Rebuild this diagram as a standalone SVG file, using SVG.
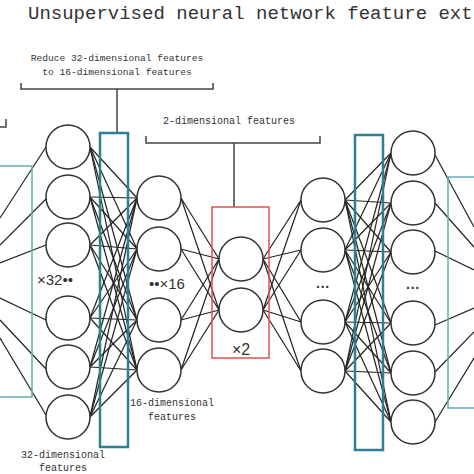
<svg xmlns="http://www.w3.org/2000/svg" width="474" height="474" viewBox="0 0 474 474">
<style>
.t{font-family:"Liberation Mono","DejaVu Sans Mono",monospace;fill:#333}
.s{font-family:"Liberation Sans","Noto Sans CJK SC",sans-serif;fill:#333}
.n{fill:#fff;stroke:#333;stroke-width:1.5}
.c line{stroke:#222;stroke-width:1.2}
.br{fill:none;stroke:#444;stroke-width:1.5}
.tk{fill:none;stroke:#2f7f93;stroke-width:2.5}
.tl{fill:none;stroke:#6aa9b7;stroke-width:1.5}
.rd{fill:none;stroke:#e05050;stroke-width:1.5}
</style>
<rect width="474" height="474" fill="#fff"/>
<text class="t" x="28" y="19" font-size="19">Unsupervised neural network feature ext</text>
<g id="bracket1">
<text class="t" x="117" y="61" font-size="9.6" text-anchor="middle">Reduce 32-dimensional features</text>
<text class="t" x="117" y="75" font-size="9.6" text-anchor="middle">to 16-dimensional features</text>
<path class="br" d="M21 83V89H213V83M117 89V133"/>
</g>
<g id="bracket2">
<text class="t" x="229" y="124" font-size="10" text-anchor="middle">2-dimensional features</text>
<path class="br" d="M146 136V143H320V136M234 143V207"/>
</g>
<path class="br" d="M0 127H6V119"/>
<g class="c" id="connectors">
<line x1="0" y1="218" x2="46" y2="147"/>
<line x1="0" y1="245" x2="46" y2="199"/>
<line x1="0" y1="263" x2="46" y2="245"/>
<line x1="0" y1="298" x2="46" y2="320"/>
<line x1="0" y1="320" x2="46" y2="369"/>
<line x1="0" y1="338" x2="46" y2="415"/>
<g id="L32to16">
<line x1="90" y1="147" x2="137" y2="198"/><line x1="90" y1="147" x2="137" y2="249"/><line x1="90" y1="147" x2="137" y2="320"/><line x1="90" y1="147" x2="137" y2="370"/>
<line x1="90" y1="197" x2="137" y2="198"/><line x1="90" y1="197" x2="137" y2="249"/><line x1="90" y1="197" x2="137" y2="320"/><line x1="90" y1="197" x2="137" y2="370"/>
<line x1="90" y1="245" x2="137" y2="198"/><line x1="90" y1="245" x2="137" y2="249"/><line x1="90" y1="245" x2="137" y2="320"/><line x1="90" y1="245" x2="137" y2="370"/>
<line x1="90" y1="318" x2="137" y2="198"/><line x1="90" y1="318" x2="137" y2="249"/><line x1="90" y1="318" x2="137" y2="320"/><line x1="90" y1="318" x2="137" y2="370"/>
<line x1="90" y1="367" x2="137" y2="198"/><line x1="90" y1="367" x2="137" y2="249"/><line x1="90" y1="367" x2="137" y2="320"/><line x1="90" y1="367" x2="137" y2="370"/>
<line x1="90" y1="417" x2="137" y2="198"/><line x1="90" y1="417" x2="137" y2="249"/><line x1="90" y1="417" x2="137" y2="320"/><line x1="90" y1="417" x2="137" y2="370"/>
</g>
<g id="L16to2">
<line x1="181" y1="198" x2="219" y2="259"/><line x1="181" y1="198" x2="219" y2="310"/>
<line x1="181" y1="249" x2="219" y2="259"/><line x1="181" y1="249" x2="219" y2="310"/>
<line x1="181" y1="320" x2="219" y2="259"/><line x1="181" y1="320" x2="219" y2="310"/>
<line x1="181" y1="370" x2="219" y2="259"/><line x1="181" y1="370" x2="219" y2="310"/>
</g>
<g id="L2to16">
<line x1="263" y1="259" x2="301" y2="200"/><line x1="263" y1="259" x2="301" y2="250"/><line x1="263" y1="259" x2="301" y2="322"/><line x1="263" y1="259" x2="301" y2="371"/>
<line x1="263" y1="310" x2="301" y2="200"/><line x1="263" y1="310" x2="301" y2="250"/><line x1="263" y1="310" x2="301" y2="322"/><line x1="263" y1="310" x2="301" y2="371"/>
</g>
<g id="R16to32">
<line x1="345" y1="200" x2="391" y2="153"/><line x1="345" y1="200" x2="391" y2="203"/><line x1="345" y1="200" x2="391" y2="252"/><line x1="345" y1="200" x2="391" y2="323"/><line x1="345" y1="200" x2="391" y2="373"/><line x1="345" y1="200" x2="391" y2="422"/>
<line x1="345" y1="250" x2="391" y2="153"/><line x1="345" y1="250" x2="391" y2="203"/><line x1="345" y1="250" x2="391" y2="252"/><line x1="345" y1="250" x2="391" y2="323"/><line x1="345" y1="250" x2="391" y2="373"/><line x1="345" y1="250" x2="391" y2="422"/>
<line x1="345" y1="322" x2="391" y2="153"/><line x1="345" y1="322" x2="391" y2="203"/><line x1="345" y1="322" x2="391" y2="252"/><line x1="345" y1="322" x2="391" y2="323"/><line x1="345" y1="322" x2="391" y2="373"/><line x1="345" y1="322" x2="391" y2="422"/>
<line x1="345" y1="371" x2="391" y2="153"/><line x1="345" y1="371" x2="391" y2="203"/><line x1="345" y1="371" x2="391" y2="252"/><line x1="345" y1="371" x2="391" y2="323"/><line x1="345" y1="371" x2="391" y2="373"/><line x1="345" y1="371" x2="391" y2="422"/>
</g>
<line x1="435" y1="155" x2="474" y2="227"/>
<line x1="435" y1="203" x2="474" y2="247"/>
<line x1="435" y1="251" x2="474" y2="270"/>
<line x1="435" y1="325" x2="474" y2="308"/>
<line x1="435" y1="372" x2="474" y2="332"/>
<line x1="435" y1="422" x2="474" y2="358"/>
</g>
<rect class="tl" x="-10" y="166" width="42" height="231"/>
<rect class="tk" x="100" y="133" width="28" height="314"/>
<rect class="rd" x="212" y="207" width="57" height="151"/>
<rect class="tk" x="355" y="135" width="28" height="315"/>
<rect class="tl" x="448" y="177" width="40" height="231"/>
<g id="layer32in">
<circle class="n" cx="68" cy="147" r="22"/><circle class="n" cx="68" cy="197" r="22"/><circle class="n" cx="68" cy="245" r="22"/>
<circle class="n" cx="68" cy="318" r="22"/><circle class="n" cx="68" cy="367" r="22"/><circle class="n" cx="68" cy="417" r="22"/>
<text class="s" x="37" y="285" font-size="15">×32••</text>
<text class="t" x="63" y="458" font-size="10" text-anchor="middle">32-dimensional</text>
<text class="t" x="63" y="471" font-size="10" text-anchor="middle">features</text>
</g>
<g id="layer16in">
<circle class="n" cx="159" cy="198" r="22"/><circle class="n" cx="159" cy="249" r="22"/>
<circle class="n" cx="159" cy="320" r="22"/><circle class="n" cx="159" cy="370" r="22"/>
<text class="s" x="149" y="289" font-size="15">••×16</text>
<text class="t" x="172" y="406" font-size="10" text-anchor="middle">16-dimensional</text>
<text class="t" x="172" y="420" font-size="10" text-anchor="middle">features</text>
</g>
<g id="layer2">
<circle class="n" cx="241" cy="259" r="22"/><circle class="n" cx="241" cy="310" r="22"/>
<text class="s" x="232" y="355" font-size="16">×2</text>
</g>
<g id="layer16out">
<circle class="n" cx="323" cy="200" r="22"/><circle class="n" cx="323" cy="250" r="22"/>
<circle class="n" cx="323" cy="322" r="22"/><circle class="n" cx="323" cy="371" r="22"/>
<text class="s" x="323" y="292" font-size="14" font-weight="bold" text-anchor="middle">···</text>
</g>
<g id="layer32out">
<circle class="n" cx="413" cy="153" r="22"/><circle class="n" cx="413" cy="203" r="22"/><circle class="n" cx="413" cy="252" r="22"/>
<circle class="n" cx="413" cy="323" r="22"/><circle class="n" cx="413" cy="373" r="22"/><circle class="n" cx="413" cy="422" r="22"/>
<text class="s" x="413" y="293" font-size="14" font-weight="bold" text-anchor="middle">···</text>
</g>
</svg>
